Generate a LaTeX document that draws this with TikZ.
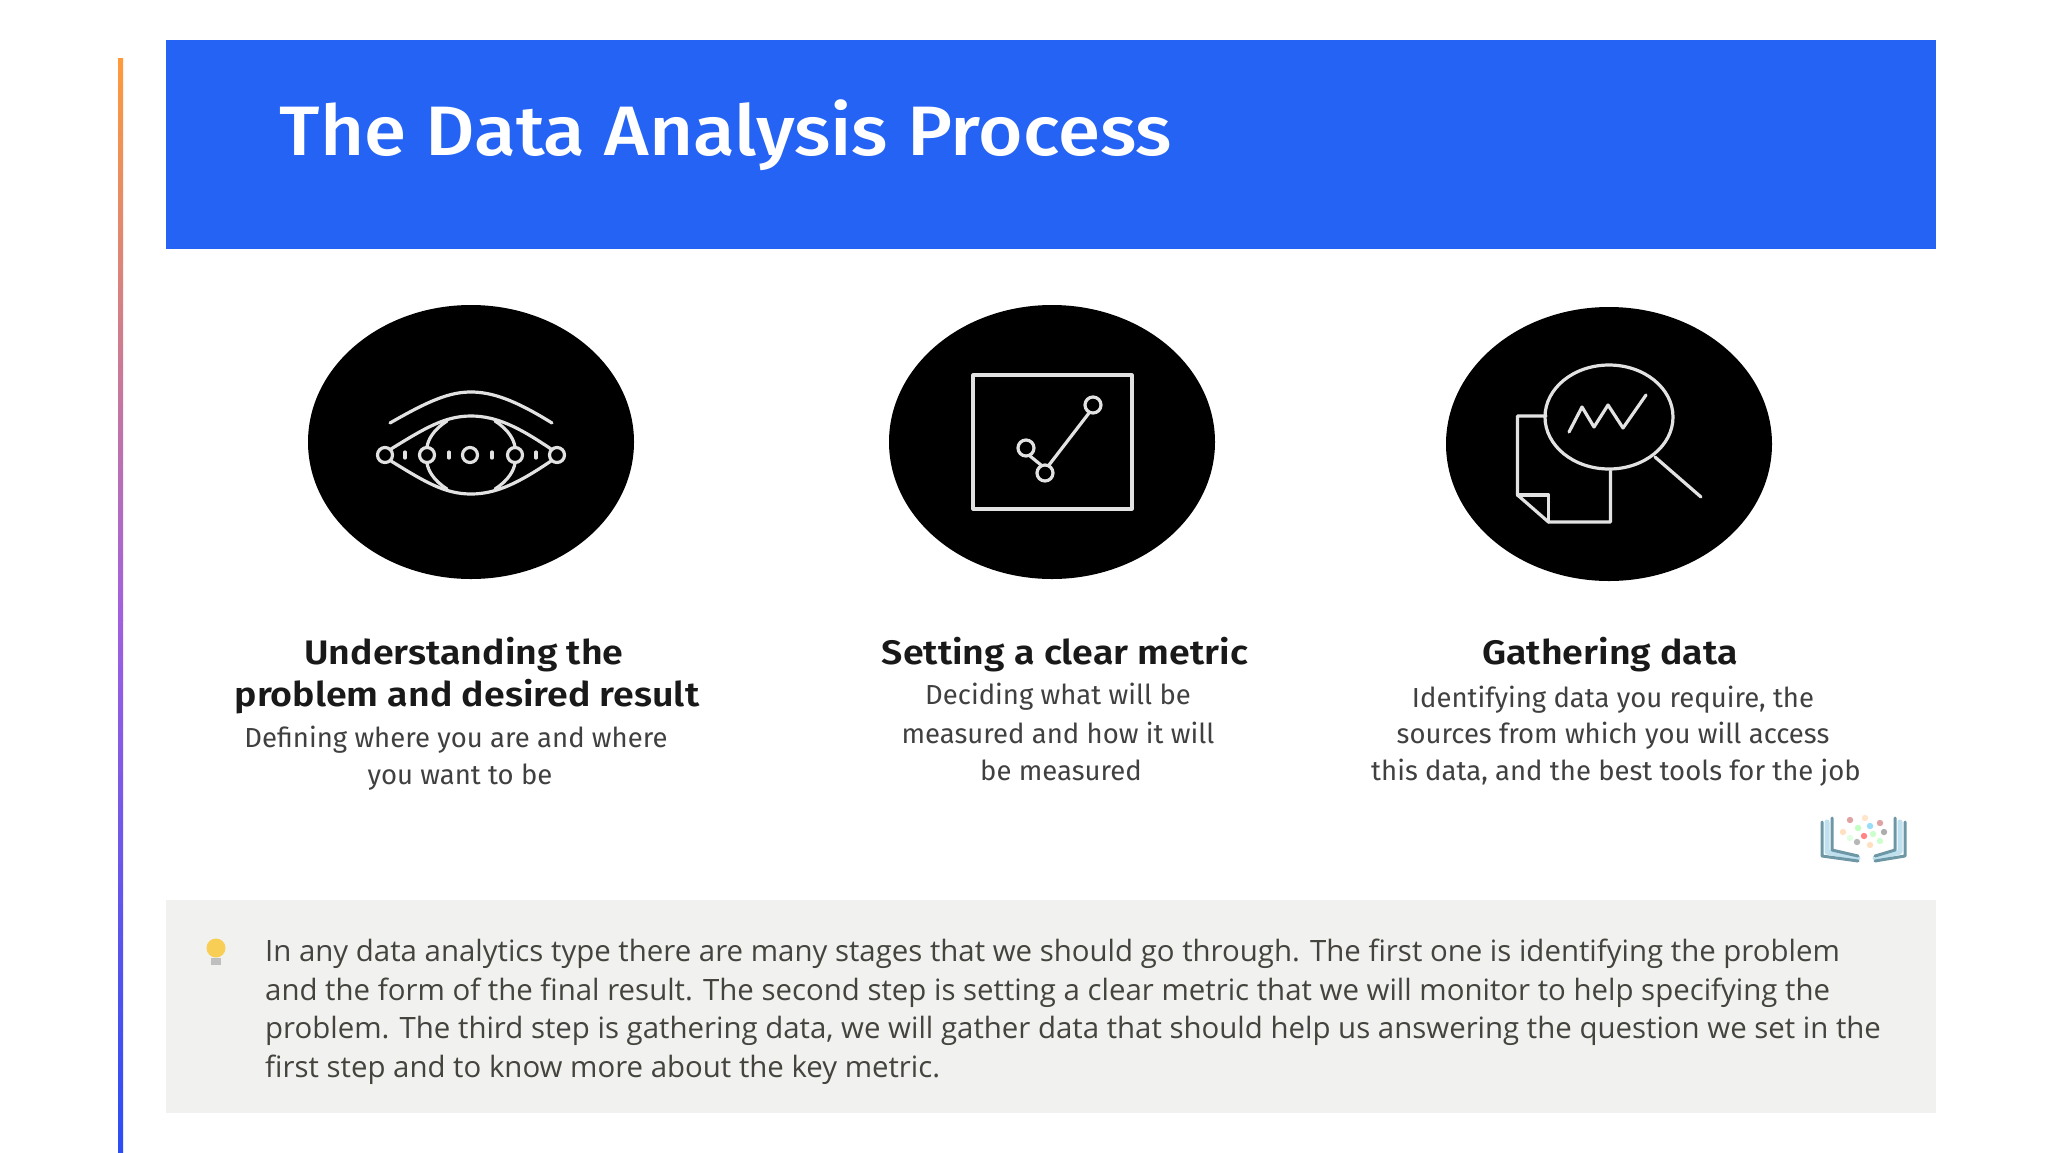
\documentclass[tikz,border=0pt]{standalone}
\usepackage{fontspec}
\setmainfont{Fira Sans}
\newfontfamily\bodyfont{Open Sans}
\newfontfamily\headfont{Fira Sans}[UprightFont=*-SemiBold,FakeStretch=1.105]
\newfontfamily\titlefont{Fira Sans}[UprightFont=*-Medium,FakeStretch=1.09]
\tikzset{
  x=1pt,y=-1pt,
  blob/.style={fill=black,draw=none},
  icon/.style={draw=iconline,line width=3.2pt,line cap=round,line join=round},
  head/.style={anchor=center,inner sep=0pt,font=\headfont\fontsize{34}{38}\selectfont,text=black!90},
  sub/.style={anchor=center,inner sep=0pt,font=\fontsize{27.5}{30}\selectfont,text=black!75},
  para/.style={anchor=west,inner sep=0pt,font=\bodyfont\fontsize{29.4}{34}\selectfont,text=paratext},
}
\definecolor{iconline}{HTML}{E2E2E2}
\definecolor{banner}{HTML}{2563F5}
\definecolor{panel}{HTML}{F1F1EF}
\definecolor{paratext}{HTML}{45433E}
\definecolor{barorange}{HTML}{FF9A3C}
\definecolor{barpurple}{HTML}{A060E0}
\definecolor{barblue}{HTML}{2B4DF5}
\definecolor{bulb}{HTML}{F9CE55}
\definecolor{bookdark}{HTML}{6E97A6}
\definecolor{booklight}{HTML}{BFE0EE}
\begin{document}
\begin{tikzpicture}
\useasboundingbox (0,0) rectangle (2048,1152);
\fill[white] (0,0) rectangle (2048,1152);
% gradient bar
\shade[top color=barorange,bottom color=barpurple] (118,58) rectangle (123,620);
\shade[top color=barpurple,bottom color=barblue] (118,620) rectangle (123,1152);
% banner
\fill[banner] (166,40) rectangle (1936,249);
\node[anchor=center,inner sep=0pt,text=white,font=\titlefont\fontsize{70}{74}\selectfont] (title) at (726,135) {The Data Analysis Process};
% circles
\fill[blob] (471,442) ellipse [x radius=163,y radius=137];
\fill[blob] (1052,442) ellipse [x radius=163,y radius=137];
\fill[blob] (1609,444) ellipse [x radius=163,y radius=137];
% eye icon
\draw[icon] (390,423) .. controls (430,400) and (450,392) .. (471,392) .. controls (492,392) and (515,400) .. (552,423);
\draw[icon] (391,449) .. controls (425,428) and (445,416) .. (471,416) .. controls (497,416) and (520,428) .. (551,449);
\draw[icon] (391,461) .. controls (425,482) and (445,494) .. (471,494) .. controls (497,494) and (520,482) .. (551,461);
\draw[icon] (447,421) .. controls (433,430) and (428,440) .. (427,447);
\draw[icon] (447,489) .. controls (433,480) and (428,470) .. (427,463);
\draw[icon] (495,421) .. controls (509,430) and (514,440) .. (515,447);
\draw[icon] (495,489) .. controls (509,480) and (514,470) .. (515,463);
\foreach \px in {385,427,470,515,557} \draw[icon] (\px,455) circle (7.5);
\foreach \px in {405,449,492,536} \draw[icon] (\px,452) -- (\px,458);
% chart icon
\draw[icon] (973,375) rectangle (1132,509);
\draw[icon] (1030,456) -- (1041,465);
\draw[icon] (1049,465) -- (1089,413);
\draw[icon] (1093,405) circle (8);
\draw[icon] (1045,473) circle (8);
\draw[icon] (1026,448) circle (8);
% magnifier icon
\draw[icon] (1609,417) ellipse [x radius=64,y radius=52];
\draw[icon] (1569,432) -- (1582,407) -- (1594,427) -- (1608,405) -- (1623,428) -- (1646,395);
\draw[icon] (1655,457) -- (1701,497);
\draw[icon] (1546,416) -- (1517.5,416) -- (1517.5,495) -- (1548.5,522) -- (1610.5,522) -- (1610.5,471);
\draw[icon] (1517.5,495) -- (1548.5,495) -- (1548.5,522);
% column 1
\node[head] (h1a) at (464,655) {Understanding the};
\node[head] (h1b) at (467,697) {problem and desired result};
\node[sub] (s1a) at (456,740) {Defining where you are and where};
\node[sub] (s1b) at (460,777) {you want to be};
% column 2
\node[head] (h2a) at (1065,655) {Setting a clear metric};
\node[sub] (s2a) at (1058,697) {Deciding what will be};
\node[sub] (s2b) at (1058,733) {measured and how it will};
\node[sub] (s2c) at (1061,770) {be measured};
% column 3
\node[head] (h3a) at (1610,655) {Gathering data};
\node[sub] (s3a) at (1613,700) {Identifying data you require, the};
\node[sub] (s3b) at (1613,736) {sources from which you will access};
\node[sub] (s3c) at (1616,773) {this data, and the best tools for the job};
% book logo
\begin{scope}[line cap=round,line join=round]
\draw[draw=booklight,line width=5pt] (1827,822) -- (1827,852) -- (1858,858);
\draw[draw=booklight,line width=5pt] (1900,822) -- (1900,852) -- (1875,858);
\draw[draw=bookdark,line width=3pt] (1822,822) -- (1822,856) -- (1858,861);
\draw[draw=bookdark,line width=3pt] (1832,818) -- (1832,850) -- (1858,856);
\draw[draw=bookdark,line width=3pt] (1905,822) -- (1905,856) -- (1875,861);
\draw[draw=bookdark,line width=3pt] (1895,818) -- (1895,850) -- (1875,856);
\foreach \dx/\dy/\dc in {1850/820/red!50!gray!60,1865/818/orange!25,1880/823/red!50!gray!60,1858/828/green!30,1870/826/cyan!50,1843/832/orange!30,1873/834/green!25,1884/832/black!40,1864/836/red!60!white,1850/838/green!15,1857/842/black!35,1880/841/green!25,1870/845/orange!30}
  \fill[\dc,opacity=.8] (\dx,\dy) circle (3.2);
\end{scope}
% panel
\fill[panel] (166,900) rectangle (1936,1113);
\fill[bulb] (216,948) circle (9.5);
\fill[black!25] (211,958) rectangle (221,965);
\node[para] (p1) at (265,953.5) {In any data analytics type there are many stages that we should go through. The first one is identifying the problem};
\node[para] (p2) at (265,992.5) {and the form of the final result. The second step is setting a clear metric that we will monitor to help specifying the};
\node[para] (p3) at (265,1030.5) {problem. The third step is gathering data, we will gather data that should help us answering the question we set in the};
\node[para] (p4) at (265,1069.5) {first step and to know more about the key metric.};
\end{tikzpicture}
\end{document}
